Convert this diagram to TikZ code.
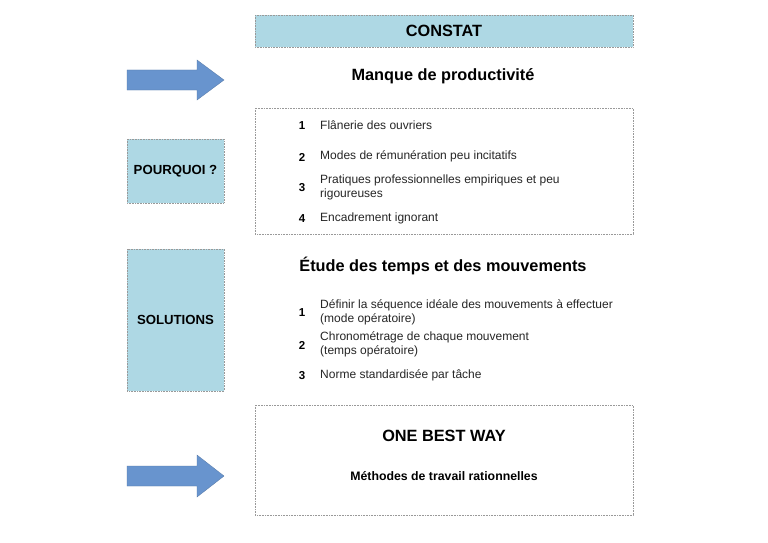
\documentclass[tikz,border=0pt]{standalone}
\usepackage{fontspec}
\setmainfont{Liberation Sans}
\definecolor{lblue}{RGB}{174,216,228}
\definecolor{arr}{RGB}{104,148,206}
\begin{document}
\begin{tikzpicture}[x=1pt,y=-1pt,
  bx/.style={draw=gray!80,densely dotted,line width=0.6pt},
  item/.style={anchor=west,font=\fontsize{12}{14}\selectfont,text=black!85,align=left,inner sep=0pt},
  num/.style={anchor=center,font=\fontsize{11.5}{13}\selectfont\bfseries},
  ttl/.style={font=\fontsize{16.3}{18}\selectfont\bfseries},
  bigarrow/.style={fill=arr,draw=arr!80!black,line width=0.3pt}]
\useasboundingbox (0,0) rectangle (768,543);
\fill[white] (0,0) rectangle (768,543);
% constat
\draw[bx,fill=lblue] (255,15) rectangle (633,47);
\node[ttl] (constat) at (444,31) {CONSTAT};
\node[ttl] (manque) at (443,76) {Manque de productivité};
\draw[bigarrow] (127,70) -- (197,70) -- (197,60) -- (224,80) -- (197,100) -- (197,90) -- (127,90) -- cycle;
% pourquoi
\draw[bx,fill=lblue] (127,139) rectangle (224,203);
\node[font=\fontsize{13.2}{15}\selectfont\bfseries] (pq) at (175.5,171) {POURQUOI ?};
\draw[bx] (255,108) rectangle (633,234);
\node[num] (n1) at (302,126) {1}; \node[item] (t1) at (320,125) {Flânerie des ouvriers};
\node[num] (n2) at (302,157) {2}; \node[item] (t2) at (320,156) {Modes de rémunération peu incitatifs};
\node[num] (n3) at (302,188) {3}; \node[item] (t3) at (320,187) {Pratiques professionnelles empiriques et peu\\rigoureuses};
\node[num] (n4) at (302,219) {4}; \node[item] (t4) at (320,218) {Encadrement ignorant};
% solutions
\draw[bx,fill=lblue] (127,249) rectangle (224,391);
\node[font=\fontsize{13.2}{15}\selectfont\bfseries] (sol) at (175.5,320) {SOLUTIONS};
\node[ttl] (etude) at (443,266) {Étude des temps et des mouvements};
\node[num] (m1) at (302,313) {1}; \node[item] (u1) at (320,312) {Définir la séquence idéale des mouvements à effectuer\\(mode opératoire)};
\node[num] (m2) at (302,345) {2}; \node[item] (u2) at (320,344) {Chronométrage de chaque mouvement\\(temps opératoire)};
\node[num] (m3) at (302,376) {3}; \node[item] (u3) at (320,375) {Norme standardisée par tâche};
% one best way
\draw[bx] (255,405) rectangle (633,515);
\node[ttl] (obw) at (444,436) {ONE BEST WAY};
\node[font=\fontsize{12.3}{14}\selectfont\bfseries] (meth) at (444,476) {Méthodes de travail rationnelles};
\draw[bigarrow] (127,466) -- (197,466) -- (197,455) -- (224,476) -- (197,497) -- (197,486) -- (127,486) -- cycle;
\end{tikzpicture}
\end{document}
